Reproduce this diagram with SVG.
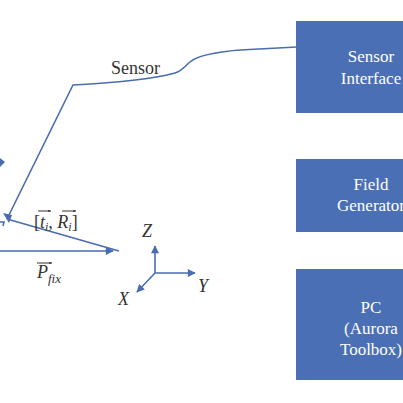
<svg xmlns="http://www.w3.org/2000/svg" width="403" height="403" viewBox="0 0 403 403">
<style>
.box{fill:#4a6fb5}
.bt{font-family:"Liberation Serif",serif;font-size:17px;fill:#ffffff;text-anchor:middle}
.ln{fill:none;stroke:#4a6cb3;stroke-width:1.6}
.lbl{font-family:"Liberation Serif",serif;font-size:18px;fill:#333333}
.it{font-style:italic}
.ah{fill:#4a6cb3}
</style>
<defs>
<marker id="arr" viewBox="0 0 10 10" refX="9" refY="5" markerWidth="5.5" markerHeight="5" orient="auto" markerUnits="strokeWidth">
<path d="M0,0 L10,5 L0,10 z" class="ah"/>
</marker>
<marker id="sarr" viewBox="0 0 10 10" refX="9" refY="5" markerWidth="3" markerHeight="3" orient="auto" markerUnits="strokeWidth">
<path d="M0,1 L10,5 L0,9 z" fill="#333333"/>
</marker>
</defs>
<rect width="403" height="403" fill="#ffffff"/>
<g id="sensor-interface">
<rect class="box" x="296" y="21" width="110" height="92"/>
<text class="bt" x="371" y="62">Sensor</text>
<text class="bt" x="371" y="84">Interface</text>
</g>
<g id="field-generator">
<rect class="box" x="296" y="159" width="110" height="73"/>
<text class="bt" x="371" y="190">Field</text>
<text class="bt" x="371" y="211">Generator</text>
</g>
<g id="pc">
<rect class="box" x="296" y="269" width="110" height="111"/>
<text class="bt" x="371" y="313">PC</text>
<text class="bt" x="371" y="334">(Aurora</text>
<text class="bt" x="371" y="355">Toolbox)</text>
</g>
<g id="connectors">
<path class="ln" d="M7 219 L73 85 C110 83 150 80 175 73 C182 71 185 66 190 62 C197 56 215 52 240 50 L297 47"/>
<path class="ln" d="M7 219 L119 251"/>
<path class="ln" d="M0 251 L113 251" marker-end="url(#arr)"/>
<path class="ah" d="M3 213 L9 223 L12 215 z"/>
<path class="ln" d="M0 222 L4 222 L3 226"/>
<path class="ah" d="M0 158 L5 162 L0 167 z"/>
<path class="ln" d="M155 273 L155 246" marker-end="url(#arr)"/>
<path class="ln" d="M155 273 L195 273" marker-end="url(#arr)"/>
<path class="ln" d="M155 273 L137 292" marker-end="url(#arr)"/>
</g>
<g id="labels">
<text class="lbl" x="111" y="74" font-size="18.5">Sensor</text>
<text class="lbl" x="34" y="228">[<tspan class="it">t</tspan><tspan class="it" font-size="12" dy="3">i</tspan><tspan dy="-3">, </tspan><tspan class="it">R</tspan><tspan class="it" font-size="12" dy="3">i</tspan><tspan dy="-3">]</tspan></text>
<path d="M38 211 L51 211" stroke="#333333" stroke-width="1" marker-end="url(#sarr)"/>
<path d="M62 211 L76 211" stroke="#333333" stroke-width="1" marker-end="url(#sarr)"/>
<text class="lbl it" x="37" y="278">P<tspan font-size="13" dy="5">fix</tspan></text>
<path d="M37 263 L52 263" stroke="#333333" stroke-width="1" marker-end="url(#sarr)"/>
<text class="lbl it" x="142" y="237">Z</text>
<text class="lbl it" x="198" y="292">Y</text>
<text class="lbl it" x="118" y="305">X</text>
</g>
</svg>
